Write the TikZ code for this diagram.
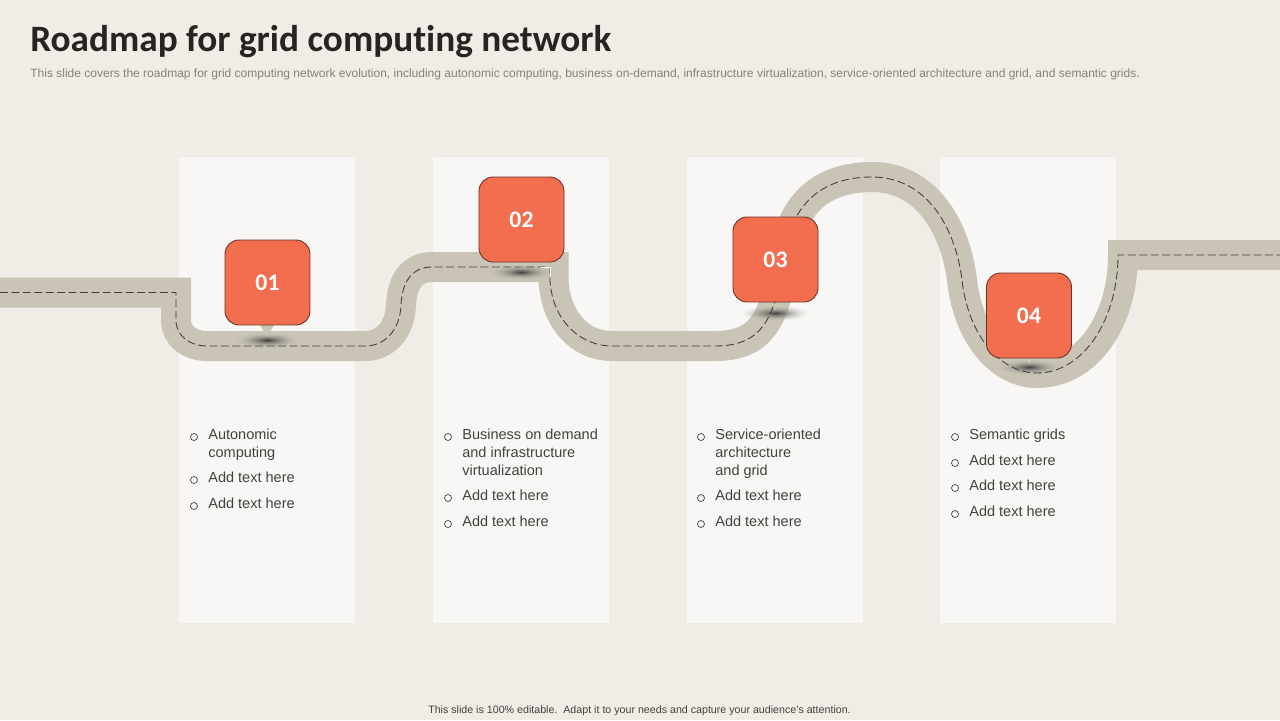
\documentclass[tikz,border=0pt]{standalone}
\usepackage{fontspec}
\setmainfont{Liberation Sans}
\newfontfamily\titlefont[Ligatures=NoCommon]{Carlito}
\usepackage{tikz}
\usetikzlibrary{fadings}
\definecolor{slidebg}{HTML}{F0EDE6}
\definecolor{panelbg}{HTML}{F8F7F5}
\definecolor{roadtan}{HTML}{C9C4B6}
\definecolor{cardred}{HTML}{F26E4F}
\definecolor{cardedge}{HTML}{6B3326}
\definecolor{titleink}{HTML}{262522}
\definecolor{noteink}{HTML}{85827C}
\definecolor{bodyink}{HTML}{44423F}
\tikzset{
    road/.style={draw=roadtan, line width=0.6cm, miter limit=10},
    roadmark/.style={draw=black!75, line width=0.5pt, dash pattern=on 4.5pt off 2pt},
    card/.style={draw=cardedge, line width=0.5pt, fill=cardred, rounded corners=0.28cm, minimum width=1.7cm, minimum height=1.7cm, inner sep=0pt, text=white, font=\titlefont\bfseries\fontsize{13.5}{15}\selectfont},
    listtext/.style={anchor=north west, align=left, inner sep=0pt, text=bodyink, font=\fontsize{8.26}{10}\selectfont},
    bullet/.style={draw=bodyink, line width=0.4pt, circle, inner sep=0pt, minimum size=0.14cm},
    pinshadow/.style={inner color=black!75, outer color=roadtan, path fading=fuzzy},
}
\tikzfading[name=fuzzy, inner color=transparent!0, outer color=transparent!100]
\newcommand{\roadpath}[2]{(0,292.5) -- (176,292.5) -- (176,320) .. controls (176,336) and (190,346) .. (207,346) -- (365,346) .. controls (385,346) and (400,330) .. (401,305) .. controls (402,282) and (412,267) .. (432,267) -- (#1,267) -- (#1,280) .. controls (#1+2,320) and (580,346) .. (612,346) -- (715,346) .. controls (745,346) and (761,335) .. (771,312) .. controls (778,296) and (782,275) .. (785,255) .. controls (788,225) and (805,177) .. (872,177) .. controls (925,177) and (955,225) .. (962,280) .. controls (968,335) and (1000,373) .. (1037,373) .. controls (#2-35,373) and (#2,320) .. (#2,255) -- (1280,255)}
\begin{document}
\begin{tikzpicture}[x=0.02cm, y=-0.02cm]
    \fill[slidebg] (0,0) rectangle (1280,720);
    \useasboundingbox (0,0) rectangle (1280,720);

    \foreach \x in {179, 433, 687, 940} {
        \fill[panelbg] (\x,157) rectangle (\x+176,623);
    }

    \draw[road] \roadpath{553.5}{1123};

    \foreach \x\y in {267/340, 521/272, 775/313, 1029/367} {
        \shade[pinshadow] (\x,\y) ellipse (34 and 8);
        \fill[roadtan] (\x-7,\y-15)--(\x+7,\y-15)--(\x,\y-3)--cycle;
    }

    \draw[roadmark] \roadpath{550}{1118};
    \draw[white, line width=0.5pt] (541,267)--(550,267)--(550,276);

    \foreach \x\y\n in {267.5/282.5/01, 521.5/219.5/02, 775.5/259.5/03, 1029/315.5/04} {
        \node[card] (card\n) at (\x,\y) {\n};
    }

    \node[anchor=base west, inner sep=0pt, text=titleink, font=\titlefont\bfseries\fontsize{21.2}{24}\selectfont] (title) at (30,51) {Roadmap for grid computing network};
    \node[anchor=base west, inner sep=0pt, text=noteink, font=\fontsize{6.84}{8}\selectfont] (subtitle) at (30,77) {This slide covers the roadmap for grid computing network evolution, including autonomic computing, business on-demand, infrastructure virtualization, service-oriented architecture and grid, and semantic grids.};
    \node[anchor=base, inner sep=0pt, text=bodyink, font=\fontsize{6.07}{7}\selectfont] (footer) at (639.5,713) {This slide is 100\% editable.\ \ Adapt it to your needs and capture your audience's attention.};

    \foreach \x\y\t in {208/429/{Autonomic\\computing}, 208/472/{Add text here}, 208/498/{Add text here},
                        462/429/{Business on demand\\and infrastructure\\virtualization}, 462/490/{Add text here}, 462/516/{Add text here},
                        715/429/{Service-oriented\\architecture\\and grid}, 715/490/{Add text here}, 715/516/{Add text here},
                        969/429/{Semantic grids}, 969/455/{Add text here}, 969/480/{Add text here}, 969/506/{Add text here}} {
        \node[listtext] at (\x,\y) {\t};
        \node[bullet] at (\x-14,\y+8) {};
    }
\end{tikzpicture}
\end{document}
